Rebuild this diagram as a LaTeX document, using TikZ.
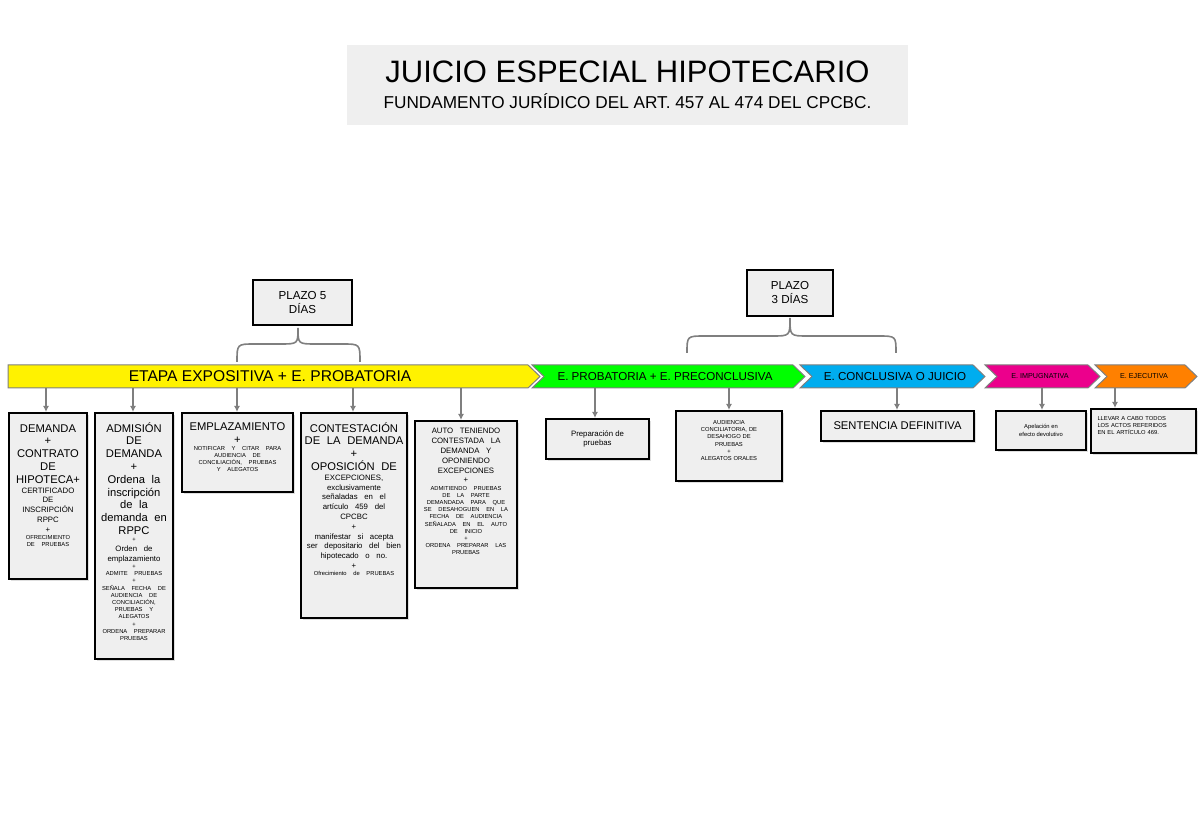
\documentclass[tikz,border=0pt]{standalone}
\usepackage{fontspec}
\setmainfont{Liberation Sans}
\usetikzlibrary{shadows,arrows.meta}
\definecolor{bx}{HTML}{EFEFEF}
\definecolor{ln}{HTML}{7F7F7F}
\newcommand{\fa}{\fontsize{5.6}{6.4}\selectfont}
\newcommand{\fb}{\fontsize{3.9}{4.9}\selectfont}
\newcommand{\fc}{\fontsize{2.9}{3.6}\selectfont}
\tikzset{
 box/.style={draw=black, line width=1pt, fill=bx, anchor=north west, inner sep=0pt, drop shadow={shadow xshift=0.8pt, shadow yshift=-0.8pt, fill=gray!50}},
 txt/.style={anchor=north, align=center, inner sep=0pt},
 conn/.style={draw=ln, line width=0.8pt, -{Latex[length=3pt,width=3pt]}},
 seg/.style={draw=ln, line width=0.5pt},
 brc/.style={draw=ln, line width=0.8pt},
 plazo/.style={draw=black, line width=0.8pt, fill=bx, align=center, font=\fontsize{5.8}{7}\selectfont, inner sep=0pt}
}
\begin{document}
\begin{tikzpicture}[x=0.5pt,y=-0.5pt]
\useasboundingbox (0,0) rectangle (1200,822);
% title
\node[fill=bx, minimum width=280.5pt, minimum height=40pt, inner sep=0pt, align=center] (title) at (627.5,85)
 {{\fontsize{15.5}{18}\selectfont JUICIO ESPECIAL HIPOTECARIO}\\[1pt]{\fontsize{8.6}{10}\selectfont FUNDAMENTO JURÍDICO DEL ART. 457 AL 474 DEL CPCBC.}};
% band
\fill[yellow,seg,draw=ln] (8,365) -- (528,365) -- (540,376.5) -- (528,388) -- (8,388) -- cycle;
\node (b1) at (270,376.5) {\fontsize{7.8}{9}\selectfont ETAPA EXPOSITIVA + E. PROBATORIA};
\fill[green,draw=ln,seg] (532,365) -- (793,365) -- (805,376.5) -- (793,388) -- (532,388) -- (544,376.5) -- cycle;
\node (b2) at (665,376.5) {\fontsize{5.8}{7}\selectfont E. PROBATORIA + E. PRECONCLUSIVA};
\fill[cyan,draw=ln,seg] (800,365) -- (973,365) -- (985,376.5) -- (973,388) -- (800,388) -- (812,376.5) -- cycle;
\node (b3) at (895,376.5) {\fontsize{5.8}{7}\selectfont E. CONCLUSIVA O JUICIO};
\fill[magenta,draw=ln,seg] (985,365) -- (1088,365) -- (1100,376.5) -- (1088,388) -- (985,388) -- (997,376.5) -- cycle;
\node (b4) at (1040,376.5) {\fontsize{3.6}{4}\selectfont E. IMPUGNATIVA};
\fill[orange,draw=ln,seg] (1095,365) -- (1185,365) -- (1197,376.5) -- (1185,388) -- (1095,388) -- (1107,376.5) -- cycle;
\node (b5) at (1144,376.5) {\fontsize{3.6}{4}\selectfont E. EJECUTIVA};
% plazos
\node[plazo, minimum width=49.5pt, minimum height=22.5pt] (p1) at (302.5,302.5) {PLAZO 5\\DÍAS};
\node[plazo, minimum width=43pt, minimum height=23pt] (p2) at (790,293) {PLAZO\\3 DÍAS};
\coordinate (t1) at (298,328);
\coordinate (t2) at (790,318);
\draw[brc] (237,362) .. controls (237,344) .. (255,344) -- (280,344) .. controls (298,344) .. (t1) .. controls (298,344) .. (316,344) -- (342,344) .. controls (360,344) .. (360,362);
\draw[brc] (687,353) .. controls (687,336) .. (705,336) -- (772,336) .. controls (790,336) .. (t2) .. controls (790,336) .. (808,336) -- (878,336) .. controls (896,336) .. (896,353);
% boxes
\node[box, minimum width=39pt, minimum height=83pt] (n1) at (8,412) {};
\node[txt, text width=37pt] at ([yshift=-6pt]n1.north) {\fa DEMANDA\\+\\CONTRATO\\DE\\HIPOTECA+\par\fb CERTIFICADO\\DE\\INSCRIPCIÓN\\RPPC\\+\par\fc OFRECIMIENTO\\DE PRUEBAS\par};
\node[box, minimum width=39pt, minimum height=123pt] (n2) at (94,412) {};
\node[txt, text width=37pt] at ([yshift=-5pt]n2.north) {\fa ADMISIÓN\\DE\\DEMANDA\\+\\Ordena la\\inscripción\\de la\\demanda en\\RPPC\par\fc +\par\fb Orden de\\emplazamiento\par\fc +\\ADMITE PRUEBAS\\+\\SEÑALA FECHA DE\\AUDIENCIA DE\\CONCILIACIÓN,\\PRUEBAS Y\\ALEGATOS\\+\\ORDENA PREPARAR\\PRUEBAS\par};
\node[box, minimum width=55.5pt, minimum height=39.5pt] (n3) at (181,412) {};
\node[txt, text width=54pt] at ([yshift=-5pt]n3.north) {\fa EMPLAZAMIENTO\\+\par\fc NOTIFICAR Y CITAR PARA\\AUDIENCIA DE\\CONCILIACIÓN, PRUEBAS\\Y ALEGATOS\par};
\node[box, minimum width=53pt, minimum height=102.5pt] (n4) at (300,412) {};
\node[txt, text width=52pt] at ([yshift=-5pt]n4.north) {\fa CONTESTACIÓN\\DE LA DEMANDA\\+\\OPOSICIÓN DE\par\fb EXCEPCIONES,\\exclusivamente\\señaladas en el\\artículo 459 del\\CPCBC\\+\\manifestar si acepta\\ser depositario del bien\\hipotecado o no.\\+\par\fc Ofrecimiento de PRUEBAS\par};
\node[box, minimum width=51pt, minimum height=83.5pt] (n5) at (414,420) {};
\node[txt, text width=50pt] at ([yshift=-4pt]n5.north) {\fb AUTO TENIENDO\\CONTESTADA LA\\DEMANDA Y\\OPONIENDO\\EXCEPCIONES\\+\par\fc ADMITIENDO PRUEBAS\\DE LA PARTE\\DEMANDADA PARA QUE\\SE DESAHOGUEN EN LA\\FECHA DE AUDIENCIA\\SEÑALADA EN EL AUTO\\DE INICIO\\+\\ORDENA PREPARAR LAS\\PRUEBAS\par};
\node[box, minimum width=51.5pt, minimum height=20pt] (n6) at (545,418) {};
\node[align=center, inner sep=0pt, font=\fb] at (n6.center) {Preparación de\\pruebas};
\node[box, minimum width=53pt, minimum height=35pt] (n7) at (675,410) {};
\node[txt, text width=52pt, font=\fc] at ([yshift=-5pt]n7.north) {AUDIENCIA\\CONCILIATORIA, DE\\DESAHOGO DE\\PRUEBAS\\+\\ALEGATOS ORALES\par};
\node[box, minimum width=76.5pt, minimum height=15pt] (n8) at (820,410) {};
\node[inner sep=0pt, font=\fa] at (n8.center) {SENTENCIA DEFINITIVA};
\node[box, minimum width=45pt, minimum height=19.5pt] (n9) at (995,410) {};
\node[align=center, inner sep=0pt, font=\fc] at (n9.center) {Apelación en\\efecto devolutivo};
\node[box, minimum width=52.5pt, minimum height=22pt] (n10) at (1090,408) {};
\node[txt, text width=46pt, align=left, font=\fc] at ([yshift=-4pt]n10.north) {LLEVAR A CABO TODOS\\LOS ACTOS REFERIDOS\\EN EL ARTÍCULO 469.\par};
% connectors
\foreach \x/\n in {46/n1,133/n2,237/n3,353/n4,461/n5,595/n6,729/n7,897/n8,1042/n9,1115/n10}{
 \coordinate (s\n) at (\x,388);
 \draw[conn] (s\n) -- (s\n |- \n.north);
}
\end{tikzpicture}
\end{document}
